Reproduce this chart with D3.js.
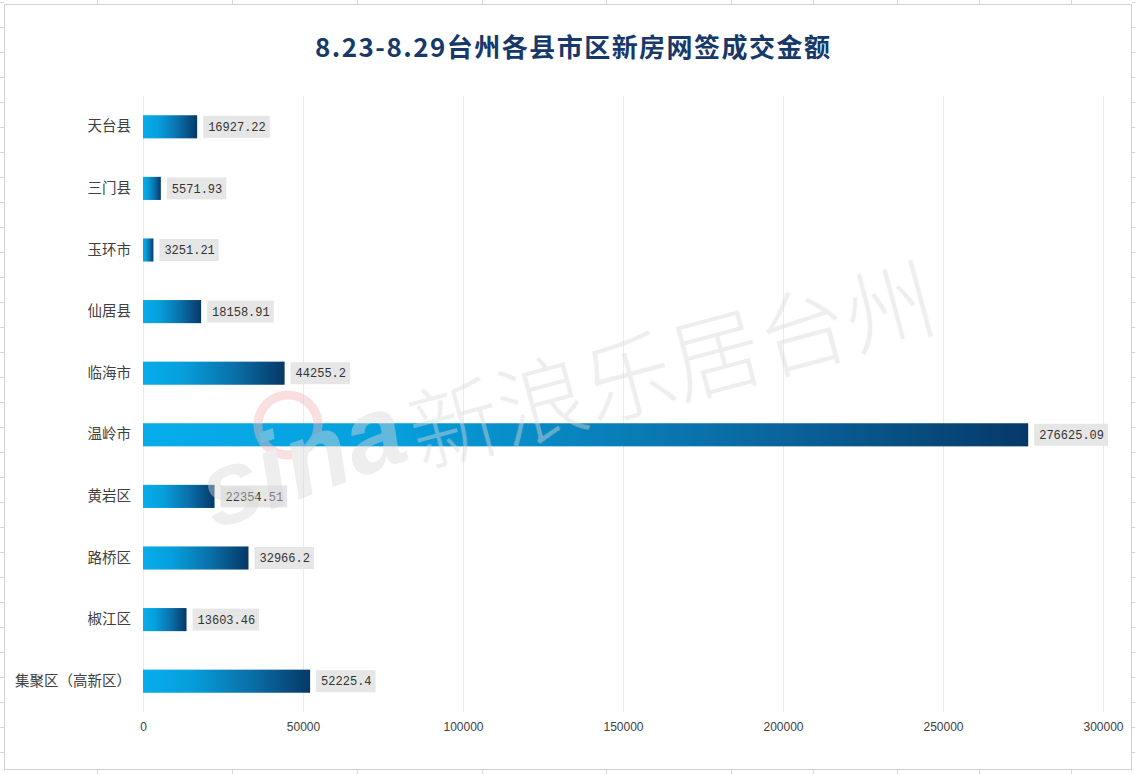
<!DOCTYPE html>
<html>
<head>
<meta charset="utf-8">
<script src="https://cdn.jsdelivr.net/npm/d3@7"></script>
<style>
html,body{margin:0;padding:0;background:#fff;}
svg{display:block;}
</style>
</head>
<body>
<svg id="chart" width="1135" height="774"></svg>
<script>
const titleText = "8.23-8.29台州各县市区新房网签成交金额";
const categories = ["天台县","三门县","玉环市","仙居县","临海市","温岭市","黄岩区","路桥区","椒江区","集聚区（高新区）"];
const values = [16927.22, 5571.93, 3251.21, 18158.91, 44255.2, 276625.09, 22354.51, 32966.2, 13603.46, 52225.4];
const xTicks = [0, 50000, 100000, 150000, 200000, 250000, 300000];

const svg = d3.select("#chart");
const W = 1135, H = 774;

// spreadsheet background grid (outside the chart object)
const sheet = svg.append("g").attr("stroke", "#d6d6d6").attr("stroke-width", 1);
const colXs = [97, 232, 357, 482, 606, 731, 813, 897, 979, 1071];
colXs.forEach(x => {
  sheet.append("line").attr("x1", x + 0.5).attr("x2", x + 0.5).attr("y1", 0).attr("y2", 4);
  sheet.append("line").attr("x1", x + 0.5).attr("x2", x + 0.5).attr("y1", 770).attr("y2", H);
});
for (let y = 2; y < H; y += 25) {
  sheet.append("line").attr("x1", 0).attr("x2", 4).attr("y1", y + 0.5).attr("y2", y + 0.5);
  sheet.append("line").attr("x1", 1132).attr("x2", W).attr("y1", y + 0.5).attr("y2", y + 0.5);
}
// chart object border
svg.append("rect").attr("x", 4.5).attr("y", 4.5).attr("width", 1127).attr("height", 765)
  .attr("fill", "#fff").attr("stroke", "#d0d0d0").attr("stroke-width", 1);

// gradient
const defs = svg.append("defs");
const grad = defs.append("linearGradient").attr("id", "barGrad")
  .attr("x1", "0%").attr("x2", "100%").attr("y1", "0%").attr("y2", "0%");
grad.append("stop").attr("offset", "0%").attr("stop-color", "#07adeb");
grad.append("stop").attr("offset", "28%").attr("stop-color", "#069fdc");
grad.append("stop").attr("offset", "65%").attr("stop-color", "#0a6fa8");
grad.append("stop").attr("offset", "100%").attr("stop-color", "#053867");

const plot = {left: 143, right: 1103, top: 96, bottom: 712};
const x = d3.scaleLinear().domain([0, 300000]).range([plot.left, plot.right]);
const y = d3.scaleBand().domain(categories).range([plot.top, plot.bottom])
  .paddingInner(0.625).paddingOuter(0.3125);

// gridlines
svg.append("g").selectAll("line").data(xTicks).join("line")
  .attr("x1", d => Math.round(x(d)) + 0.5).attr("x2", d => Math.round(x(d)) + 0.5)
  .attr("y1", plot.top).attr("y2", plot.bottom)
  .attr("stroke", "#ebebeb").attr("stroke-width", 1);

// title
svg.append("text").attr("x", 315).attr("y", 57)
  .attr("textLength", 515).attr("lengthAdjust", "spacing")
  .attr("font-family", "'Noto Sans CJK SC', sans-serif").attr("font-weight", "bold")
  .attr("font-size", 26).attr("fill", "#17396a").text(titleText);

// x axis labels
const xAxis = d3.axisBottom(x).tickValues(xTicks).tickSize(0).tickPadding(0).tickFormat(d3.format("d"));
const gx = svg.append("g").attr("transform", `translate(0,${plot.bottom + 10})`).call(xAxis);
gx.select(".domain").remove();
gx.selectAll("text").attr("font-family", "'Liberation Sans', Arial, sans-serif")
  .attr("font-size", 12).attr("fill", "#404040").attr("dy", "0.75em");

// y axis labels
const yAxis = d3.axisLeft(y).tickSize(0).tickPadding(0);
const gy = svg.append("g").attr("transform", `translate(131,0)`).call(yAxis);
gy.select(".domain").remove();
gy.selectAll("text").attr("font-family", "'Noto Sans CJK SC', sans-serif")
  .attr("font-size", 14.5).attr("fill", "#404040");

// bars
const rows = categories.map((c, i) => ({c, v: values[i]}));
svg.append("g").selectAll("rect").data(rows).join("rect")
  .attr("x", x(0)).attr("y", d => y(d.c))
  .attr("width", d => x(d.v) - x(0)).attr("height", y.bandwidth())
  .attr("fill", "url(#barGrad)");

// value labels
const lab = svg.append("g").selectAll("g").data(rows).join("g")
  .attr("transform", d => `translate(${x(d.v) + 6},${y(d.c) + y.bandwidth() / 2})`);
lab.append("rect").attr("class", "bg").attr("y", -11).attr("height", 22).attr("fill", "#e6e6e6");
lab.append("text").attr("x", 5).attr("dy", "0.35em")
  .attr("font-family", "'Liberation Mono', 'DejaVu Sans Mono', monospace")
  .attr("font-size", 12).attr("fill", "#333").text(d => String(d.v));
lab.each(function() {
  const g = d3.select(this);
  const w = g.select("text").node().getComputedTextLength();
  g.select("rect.bg").attr("width", w + 9);
});

// watermark
const wm = svg.append("g").attr("pointer-events", "none").attr("opacity", 0.45);
wm.append("text").attr("transform", "translate(420,468) rotate(-15)")
  .attr("font-family", "'Noto Sans CJK SC', sans-serif").attr("font-weight", 300)
  .attr("font-size", 90).attr("fill", "#d8d8d8").text("新浪乐居台州");
wm.append("circle").attr("cx", 288).attr("cy", 425).attr("r", 30)
  .attr("fill", "none").attr("stroke", "#f2b8b8").attr("stroke-width", 9);
wm.append("text").attr("transform", "translate(215,530) rotate(-20)")
  .attr("font-family", "'Liberation Sans', Arial, sans-serif").attr("font-weight", "bold")
  .attr("font-style", "italic").attr("font-size", 105).attr("fill", "#d8d8d8").text("sina");
</script>
</body>
</html>
